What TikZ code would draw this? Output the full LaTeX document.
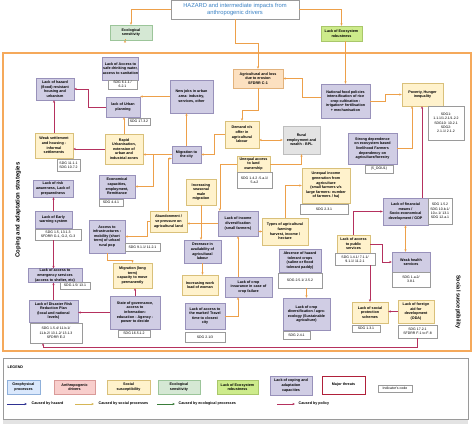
\documentclass[tikz,border=0pt]{standalone}
\usepackage{fontspec}
\setmainfont{Liberation Sans}
\usetikzlibrary{arrows.meta,calc}
\definecolor{lavF}{HTML}{D0CDE4}\definecolor{lavD}{HTML}{9891BA}
\definecolor{yelF}{HTML}{FFF2CC}\definecolor{yelD}{HTML}{D9C07A}
\definecolor{peaF}{HTML}{FCE0C0}\definecolor{peaD}{HTML}{E2B27C}
\definecolor{gryF}{HTML}{E3E3E3}\definecolor{gryD}{HTML}{BDBDBD}
\definecolor{grnF}{HTML}{D5E8D4}\definecolor{grnD}{HTML}{9CC59A}
\definecolor{limF}{HTML}{CDEB8B}\definecolor{limD}{HTML}{A9C76A}
\definecolor{bluF}{HTML}{DAE8FC}\definecolor{bluD}{HTML}{8FB0DA}
\definecolor{pnkF}{HTML}{F8CECC}\definecolor{pnkD}{HTML}{D99A98}
\definecolor{sdgD}{HTML}{9A9A9A}
\definecolor{socC}{HTML}{EDA04A}\definecolor{polC}{HTML}{B5315E}
\definecolor{hazC}{HTML}{2E3192}\definecolor{ecoC}{HTML}{3A7D3A}
\definecolor{frameC}{HTML}{F5A95B}\definecolor{titC}{HTML}{3B82C4}
\definecolor{legsoc}{HTML}{D6B656}\definecolor{majC}{HTML}{B0203A}
\newcommand\mybox[7]{%
 \pgfmathsetmacro\bw{#5-#3}%
 \pgfmathsetmacro\bh{#6-#4}%
 \pgfmathsetmacro\bcx{(#3+#5)/2}%
 \pgfmathsetmacro\bcy{(#4+#6)/2}%
 \node[#1,minimum width=\bw pt,minimum height=\bh pt] (#2) at (\bcx,\bcy) {#7};}
\begin{document}
\begin{tikzpicture}[x=1pt,y=-1pt,
 font=\bfseries\fontsize{3.7}{4.6}\selectfont,
 >={Stealth[length=2.6pt,width=2.2pt]},
 base/.style={rectangle,inner sep=0.5pt,align=center,line width=0.4pt},
 lbox/.style={base,fill=lavF,draw=lavD},
 ybox/.style={base,fill=yelF,draw=yelD},
 pbox/.style={base,fill=peaF,draw=peaD},
 grbox/.style={base,fill=gryF,draw=gryD},
 gbox/.style={base,fill=grnF,draw=grnD},
 limebox/.style={base,fill=limF,draw=limD},
 bbox/.style={base,fill=bluF,draw=bluD},
 pkbox/.style={base,fill=pnkF,draw=pnkD},
 sdg/.style={base,fill=white,draw=sdgD,font=\mdseries\fontsize{3.5}{4.3}\selectfont},
 soc/.style={draw=socC,line width=0.6pt},
 pol/.style={draw=polC,line width=0.6pt},
 hz/.style={draw=hazC,line width=0.6pt},
 ec/.style={draw=ecoC,line width=0.6pt},
 lgt/.style={anchor=west,inner sep=0.5pt}]
\useasboundingbox (0,0) rectangle (474,424);
\fill[white] (0,0) rectangle (474,424);
% frame
\draw[frameC,line width=1.3pt] (3,53) rectangle (471,351);
% top
\mybox{base,draw=sdgD,fill=white,font=\mdseries\fontsize{5.8}{7.6}\selectfont\color{titC}}{hazard}{171}{0}{299}{19}{HAZARD and intermediate impacts from\\anthropogenic drivers}
\mybox{gbox}{ecosens}{110}{25}{152}{40}{Ecological\\sensitivity}
\mybox{limebox}{ecorob}{321}{26}{362}{41}{Lack of Ecosystem\\robustness}
% left part
\mybox{lbox}{water}{103}{57}{138}{80}{Lack of Access to\\safe drinking water,\\access to sanitation}
\mybox{sdg}{sdgwater}{108}{80}{137}{89}{SDG 6.1.1 /\\6.2.1}
\mybox{lbox}{hazh}{36}{78}{74}{100}{Lack of hazard\\(flood) resistant\\housing and\\urbanism}
\mybox{lbox}{urban}{106}{97}{140}{117}{lack of Urban\\planning}
\mybox{sdg}{sdgurban}{128}{118}{150}{125}{SDG 17.3.2}
\mybox{ybox}{weak}{35}{133}{73}{158}{Weak settlement\\and housing -\\informal\\settlements}
\mybox{sdg}{sdgweak}{57}{159}{80}{171}{SDG 11.1.1\\SDG 10.7.2}
\mybox{ybox}{rapid}{105}{134}{143}{164}{Rapid\\Urbanisation,\\extension of\\urban and\\industrial zones}
\mybox{lbox}{risk}{33}{180}{73}{197}{Lack of risk\\awareness, Lack of\\preparedness}
\mybox{lbox}{econ}{99}{175}{135}{198}{Economical\\capacities,\\employment,\\Remittance}
\mybox{sdg}{sdgecon}{99}{199}{123}{206}{SDG 4.4.1}
\mybox{lbox}{early}{35}{211}{72}{228}{Lack of Early\\warning system}
\mybox{sdg}{sdgearly}{35}{229}{81}{240}{SDG 1.5, 13.1.3\\SFDRR G-1, G-2, G-3}
\mybox{lbox}{access}{89}{220}{125}{253}{Access to\\infrastructures :\\mobility (short\\term) of urban/\\rural pop}
\mybox{sdg}{sdgaccess}{125}{243}{160}{251}{SDG 9.1.1/ 11.2.1}
\mybox{lbox}{emerg}{28}{269}{82}{282}{Lack of access to\\emergency services\\(access to shelter, etc)}
\mybox{sdg}{sdgemerg}{60}{282}{90}{289}{SDG 1.5/ 13.1}
\mybox{ybox}{migrlt}{113}{263}{152}{288}{Migration (long\\term)\\capacity to move\\permanently}
\mybox{lbox}{drr}{29}{300}{78}{322}{Lack of Disaster Risk\\Reduction Plan\\(local and national\\levels)}
\mybox{sdg}{sdgdrr}{30}{323}{82}{343}{SDG 1.5.4/ 11.b.1/\\11.b.2/ 13.1.2/ 13.1.3\\SFDRR E-2}
\mybox{lbox}{gov}{110}{296}{160}{329}{State of governance,\\access to\\information:\\education - Agency -\\power to decide}
\mybox{sdg}{sdggov}{118}{330}{150}{337}{SDG 16.5.1.2}
% middle
\mybox{lbox}{newjobs}{170}{80}{213}{113}{New jobs in urban\\area: industry,\\services, other}
\mybox{lbox}{migc}{172}{146}{201}{163}{Migration to\\the city}
\mybox{pbox}{agri}{233}{69}{283}{88}{Agricultural and loss\\due to erosion\\SFDRR C-1}
\mybox{ybox}{demand}{225}{121}{259}{148}{Demand v/s\\offer in\\agricultural\\labour}
\mybox{grbox}{rural}{283}{126}{320}{154}{Rural\\employment and\\wealth - BPL}
\mybox{ybox}{unland}{237}{156}{270}{172}{Unequal access\\to land\\ownership}
\mybox{sdg}{sdgland}{237}{172}{272}{188}{SDG 1.4.2 -5.a.1/\\5.a.2}
\mybox{ybox}{seas}{186}{179}{216}{205}{Increasing\\seasonal\\male\\migration}
\mybox{ybox}{abandon}{150}{211}{187}{232}{Abandonment /\\ve pressure on\\agricultural land}
\mybox{lbox}{income}{218}{211}{258}{236}{Lack of income\\diversification\\(small farmers)}
\mybox{ybox}{types}{262}{218}{308}{245}{Types of agricultural\\farming:\\harvest, income /\\hectare}
\mybox{lbox}{decr}{184}{240}{221}{263}{Decrease in\\availability of\\agricultural\\labour}
\mybox{ybox}{work}{182}{275}{218}{295}{Increasing work\\load of woman}
\mybox{lbox}{insur}{225}{277}{272}{297}{Lack of crop\\insurance in case of\\crop failure}
\mybox{lbox}{market}{185}{303}{225}{329}{Lack of access to\\the market/ Travel\\time to closest\\city}
\mybox{sdg}{sdgmarket}{185}{332}{225}{342}{SDG 2.1/3}
\mybox{lbox}{tolerant}{279}{249}{321}{272}{Absence of hazard\\tolerant crops\\(saline or flood\\tolerant paddy)}
\mybox{sdg}{sdgtol}{278}{273}{322}{288}{SDG 2.5.1/ 2.5.2}
\mybox{lbox}{cropdiv}{283}{298}{330}{330}{Lack of crop\\diversification / agro-\\ecology (Sustainable\\agriculture)}
\mybox{sdg}{sdgcrop}{283}{331}{310}{339}{SDG 2.4.1}
% right
\mybox{lbox}{national}{321}{84}{370}{118}{National food policies\\intensification of rice\\crop cultivation :\\irrigation+ fertilisation\\+ mechanisation}
\mybox{ybox}{poverty}{402}{83}{443}{106}{Poverty, Hunger\\inequality}
\mybox{sdg}{sdgpov}{428}{106}{464}{140}{SDG1:\\1.1.1/1.2.1/1.2.2\\SDG10: 10.2.1\\SDG2:\\2.1.1/ 2.1.2}
\mybox{lbox}{strong}{348}{133}{397}{164}{Strong dependence\\on ecosystem based\\livelihood Farmers\\dependency on\\agriculture/forestry}
\mybox{sdg}{sdgstrong}{365}{165}{393}{173}{(5\_OOU1)}
\mybox{ybox}{unincome}{302}{168}{350}{203}{Unequal income\\generation from\\agriculture\\(small farmers v/s\\large farmers: number\\of farmers / ha)}
\mybox{sdg}{sdginc}{300}{204}{348}{214}{SDG 2.3.1}
\mybox{lbox}{fin}{383}{198}{428}{225}{Lack of financial\\means /\\Socio-economical\\development / GDP}
\mybox{sdg}{sdgfin}{428}{198}{452}{224}{SDG 1.5.2\\SDG 10.b.1/\\10.c.1/ 13.1\\SDG 12.a.1}
\mybox{ybox}{public}{337}{235}{370}{253}{Lack of access\\to public\\services}
\mybox{sdg}{sdgpub}{335}{253}{375}{265}{SDG 1.4.1/ 7.1.1/\\9.1.1/ 11.2.1}
\mybox{lbox}{health}{392}{252}{430}{272}{Weak health\\services}
\mybox{sdg}{sdghealth}{392}{272}{430}{287}{SDG 1.a.2/\\3.8.1}
\mybox{ybox}{social}{352}{302}{388}{323}{Lack of social\\protection\\schemes}
\mybox{sdg}{sdgsocial}{352}{325}{380}{332}{SDG 1.3.1}
\mybox{ybox}{foreign}{398}{300}{434}{323}{Lack of foreign\\aid for\\development\\(ODA)}
\mybox{sdg}{sdgforeign}{398}{325}{437}{338}{SDG 17.2.1\\SFDRR F-1 to F-8}
% side titles
\node[rotate=90,font=\bfseries\fontsize{6}{7}\selectfont] (lefttitle) at (18,210) {Coping and adaptation strategies};
\node[rotate=-90,font=\bfseries\fontsize{5.6}{7}\selectfont] (righttitle) at (458,302) {Social susceptibility};
% connectors
\draw[soc,->] (hazard.west) -| (ecosens.north);
\draw[soc,->] (hazard.east) -| (ecorob.north);
\draw[soc,->] ($(ecosens.south)+(-6,0)$) -- ($(ecosens.south)+(-6,0)$ |- water.north);
\draw[soc,->] (hazard.south) -- ++(0,24) -| (agri.north);
\draw[soc,->] (ecorob.south -| national.north) -- (national.north);
\draw[soc,->] (national.east) -- ++(15,0) |- (poverty.west);
\draw[soc,->] ([yshift=4pt]national.west) -- ++(-19,0) |- (agri.east);
\draw[soc,->] (agri.south) -- ++(0,22) -| (demand.north);
\draw[soc,<->] (rural.west -| demand.east) -- (rural.west);
\draw[soc,->] (demand.west) -- ++(-11,0) |- (migc.east);
\draw[soc,->] (migc.north) -- (migc.north |- newjobs.south);
\draw[soc,->] (migc.west) -- (migc.west -| rapid.east);
\draw[soc,->] (migc.west) -- ++(-19,0) |- (econ.east);
\draw[soc,->] (rapid.north) -- (rapid.north |- urban.south);
\draw[soc,->] (newjobs.west) -- (newjobs.west -| urban.east);
\draw[pol,->] (rapid.west) -- (rapid.west -| weak.east);
\draw[pol,->] (urban.west) -- ++(-18,0) |- (hazh.east);
\draw[pol,->] (weak.north) -- (weak.north |- hazh.south);
\draw[soc,->] (abandon.north) |- ([yshift=-4pt]migc.west);
\draw[soc,->] (income.west) -- (income.west -| abandon.east);
\draw[soc,->] (types.west) -- (types.west -| income.east);
\draw[soc,->] (types.north) |- (unincome.west);
\draw[soc,->] (unland.east) -| (rural.south);
\draw[soc,->] (unland.west) -- ++(-17,0) -- ([xshift=2pt]income.north west);
\draw[soc,->] (seas.south) -- (seas.south |- decr.north);
\draw[soc,->] (decr.south) -- (decr.south |- work.north);
\draw[soc,->] (insur.north -| income.south) -- (income.south);
\draw[soc,->] (market.east) -| (insur.south -| income.south);
\draw[soc,->] (sdgtol.south -| cropdiv.north) -- (cropdiv.north);
\draw[soc,->] (strong.east) -| ([xshift=-10.5pt]poverty.south);
\draw[pol,->] ([xshift=16.5pt]fin.north) -- ([xshift=16.5pt]fin.north |- poverty.south);
\draw[pol,->] (public.north) |- (fin.west);
\draw[soc,<->] (fin.south) -- (fin.south |- health.north);
\draw[pol,->] (public.east) -- ++(12,0) |- (health.west);
\draw[pol,->] (sdgpub.south -| social.north) -- (social.north);
\draw[pol,->] (foreign.west) -- (foreign.west -| social.east);
\draw[pol,->] (sdgforeign.south) -- ++(0,9) -| ([xshift=-13pt]sdgdrr.south);
\draw[pol,->] (gov.west) -- (gov.west -| drr.east);
\draw[pol,->] (gov.north) -- (gov.north |- migrlt.south);
\draw[pol,->] (drr.north) -- (drr.north |- emerg.south);
\draw[pol,->] (early.south |- sdgearly.south) -- (early.south |- emerg.north);
\draw[pol,->] (early.north) -- (early.north |- risk.south);
\draw[soc,->] (access.south) -- ++(0,7) -| (migrlt.north);
\draw[soc,->] (abandon.west) -- ++(-3,0) |- (access.east);
% legend
\draw[sdgD,line width=0.5pt] (3,358) rectangle (468,419);
\fill[gryF] (3,419.5) rectangle (468,424);
\node[lgt] (legtitle) at (7,367) {LEGEND};
\mybox{bbox}{lg1}{7}{380}{40}{394}{Geophysical\\processes}
\mybox{pkbox}{lg2}{54}{380}{95}{394}{Anthropogenic\\drivers}
\mybox{ybox}{lg3}{107}{380}{150}{394}{Social\\susceptibility}
\mybox{gbox}{lg4}{158}{380}{200}{394}{Ecological\\sensitivity}
\mybox{limebox}{lg5}{217}{380}{258}{394}{Lack of Ecosystem\\robustness}
\mybox{lbox}{lg6}{270}{376}{312}{395}{Lack of coping and\\adaptation\\capacities}
\mybox{base,draw=majC,line width=1pt,fill=white}{lg7}{322}{376}{365}{394}{Major threats}
\mybox{sdg}{lg8}{378}{385}{412}{392}{Indicator's code}
\coordinate (a1) at (7,404); \coordinate (a2) at (27,404);
\draw[hz,->] (a1) -- (a2);
\node[lgt] (t1) at (31,404) {Caused by hazard};
\coordinate (b1) at (75,404); \coordinate (b2) at (94,404);
\draw[draw=legsoc,line width=0.6pt,->] (b1) -- (b2);
\node[lgt] (t2) at (98,404) {Caused by social processes};
\coordinate (c1) at (157,404); \coordinate (c2) at (175,404);
\draw[ec,->] (c1) -- (c2);
\node[lgt] (t3) at (178,404) {Caused by ecological processes};
\coordinate (d1) at (277,404); \coordinate (d2) at (295,404);
\draw[pol,->] (d1) -- (d2);
\node[lgt] (t4) at (298,404) {Caused by policy};
\end{tikzpicture}
\end{document}
